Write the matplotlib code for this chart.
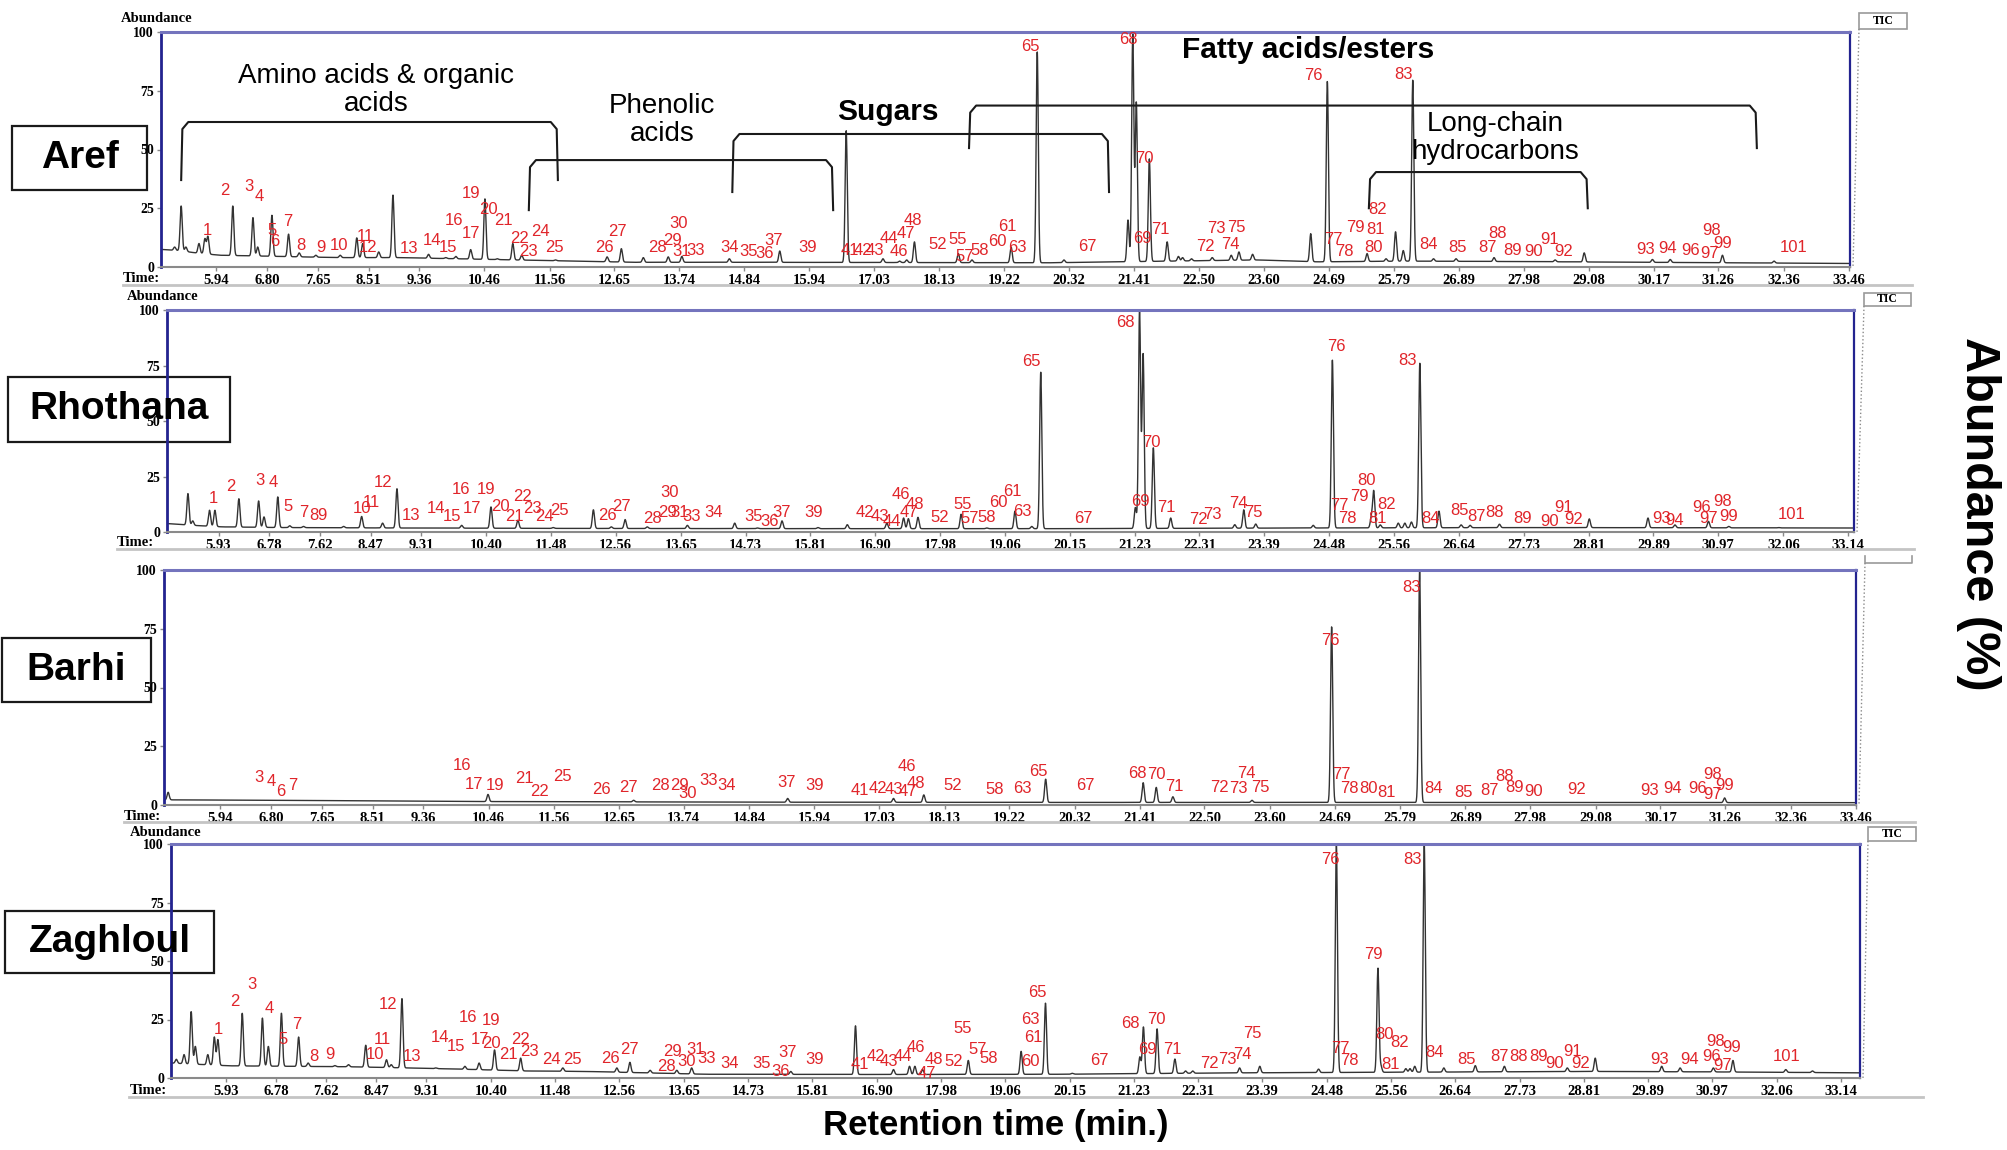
import numpy as np
import matplotlib
matplotlib.use('Agg')
import matplotlib.pyplot as plt
from matplotlib.patches import Rectangle
from matplotlib.lines import Line2D

# ---------------- data ----------------
samples = ['Aref', 'Rhothana', 'Barhi', 'Zaghloul']

ticks_aref = [5.94, 6.80, 7.65, 8.51, 9.36, 10.46, 11.56, 12.65, 13.74, 14.84, 15.94, 17.03,
              18.13, 19.22, 20.32, 21.41, 22.50, 23.60, 24.69, 25.79, 26.89, 27.98, 29.08,
              30.17, 31.26, 32.36, 33.46]
ticks_rhot = [5.93, 6.78, 7.62, 8.47, 9.31, 10.40, 11.48, 12.56, 13.65, 14.73, 15.81, 16.90,
              17.98, 19.06, 20.15, 21.23, 22.31, 23.39, 24.48, 25.56, 26.64, 27.73, 28.81,
              29.89, 30.97, 32.06, 33.14]

# peaks: (retention time, abundance %)
aref_peaks = [(5.24, 8.5), (5.35, 26), (5.43, 8.5), (5.65, 10), (5.75, 12), (5.80, 13), (6.22, 26),
              (6.56, 21), (6.64, 8.5), (6.88, 22), (7.16, 14), (7.34, 6), (7.62, 5), (8.03, 5),
              (8.31, 12.4), (8.41, 10), (8.68, 6.4), (8.92, 30.6), (9.52, 5.4), (9.81, 4), (9.98, 4.5),
              (10.23, 7.4), (10.47, 29), (10.68, 3.5), (10.94, 10), (11.09, 5), (11.66, 3), (12.53, 4.3),
              (12.77, 7.8), (13.14, 4), (13.56, 4.3), (13.79, 4.5), (14.59, 3.5), (15.44, 6.8), (16.56, 58),
              (17.18, 3.5), (17.46, 2.5), (17.58, 3), (17.71, 10.7), (18.45, 5.7), (18.68, 3), (19.34, 8.5),
              (19.78, 91.7), (20.23, 3), (21.31, 20), (21.39, 99.5), (21.45, 70), (21.67, 46), (21.97, 10.7),
              (22.16, 4.5), (22.23, 4), (22.38, 3.5), (22.73, 4), (23.05, 5), (23.18, 6.4), (23.41, 5.4),
              (24.39, 14.2), (24.67, 79), (25.34, 5.7), (25.66, 3.5), (25.82, 15), (25.95, 7), (26.11, 79.7),
              (26.46, 3.5), (26.84, 3.5), (27.48, 4), (28.51, 3), (29.00, 6), (30.15, 3.2), (30.45, 3.2),
              (31.33, 5), (32.20, 2.5)]
aref_base = [(5.0, 7.5), (5.3, 7.0), (5.6, 6.0), (6.0, 5.0), (7.0, 4.5), (8.0, 4.0), (9.0, 4.0),
             (10.0, 3.5), (11.0, 3.0), (12.0, 2.5), (13.0, 2.0), (15.0, 2.0), (20.0, 1.8), (22.0, 2.5),
             (23.5, 3.0), (24.5, 2.2), (26.0, 2.5), (28.0, 2.3), (30.0, 2.0), (33.5, 1.5)]
aref_labels = [(1, 5.80, 15.6), (2, 6.09, 32.7), (3, 6.50, 34.1), (4, 6.67, 29.9), (5, 6.88, 15.6),
               (6, 6.93, 10.7), (7, 7.15, 19.2), (8, 7.37, 9.2), (9, 7.70, 8.5), (10, 8.01, 9.0),
               (11, 8.45, 12.8), (12, 8.50, 8.5), (13, 9.19, 7.8), (14, 9.58, 11.4), (15, 9.85, 8.5),
               (16, 9.95, 19.9), (17, 10.23, 14.2), (19, 10.23, 31.3), (20, 10.53, 24.6), (21, 10.79, 19.9),
               (22, 11.06, 12.1), (23, 11.21, 6.4), (24, 11.41, 14.9), (25, 11.64, 8.5), (26, 12.49, 8.5),
               (27, 12.71, 14.9), (28, 13.38, 8.5), (29, 13.63, 11.4), (30, 13.74, 18.5), (31, 13.79, 6.4),
               (33, 14.02, 7.1), (34, 14.59, 8.5), (35, 14.91, 6.4), (36, 15.18, 5.7), (37, 15.34, 11.4),
               (39, 15.91, 8.5), (41, 16.63, 7.1), (42, 16.84, 7.1), (43, 17.05, 7.1), (44, 17.28, 12.0),
               (46, 17.45, 6.4), (47, 17.56, 14.2), (48, 17.69, 19.9), (52, 18.11, 9.5), (55, 18.43, 11.7),
               (57, 18.56, 4.3), (58, 18.81, 7.1), (60, 19.11, 10.7), (61, 19.27, 17.1), (63, 19.45, 8.5),
               (65, 19.66, 93.9), (67, 20.62, 8.8), (68, 21.31, 97.0), (69, 21.55, 12.1), (70, 21.59, 46.2),
               (71, 21.86, 15.9), (72, 22.61, 8.8), (73, 22.80, 16.4), (74, 23.03, 9.5), (75, 23.14, 16.6),
               (76, 24.44, 81.4), (77, 24.77, 11.7), (78, 24.96, 6.4), (79, 25.14, 16.6), (80, 25.44, 8.5),
               (81, 25.49, 15.9), (82, 25.52, 24.6), (83, 25.96, 81.8), (84, 26.38, 9.5), (85, 26.87, 8.3),
               (87, 27.37, 8.5), (88, 27.54, 14.2), (89, 27.80, 7.1), (90, 28.15, 6.4), (91, 28.42, 11.7),
               (92, 28.65, 6.4), (93, 30.03, 7.4), (94, 30.41, 7.8), (96, 30.80, 7.1), (97, 31.12, 5.7),
               (98, 31.15, 15.6), (99, 31.33, 10.0), (101, 32.53, 8.5)]

rhot_peaks = [(5.42, 17.3), (5.50, 5), (5.78, 9.8), (5.87, 9.8), (6.27, 15), (6.60, 14), (6.69, 6.8),
              (6.92, 15.8), (7.12, 2.8), (7.35, 2.5), (8.02, 2.5), (8.32, 7), (8.67, 4), (8.91, 19.5),
              (9.99, 3), (10.48, 11.3), (10.93, 5.3), (11.52, 2), (12.19, 10), (12.49, 2.3), (12.72, 5.6),
              (13.09, 2.3), (13.76, 3), (14.55, 4), (14.93, 1.8), (15.34, 5), (15.94, 2), (16.43, 3.3),
              (17.09, 4), (17.37, 6.3), (17.45, 6), (17.61, 6.6), (18.33, 8), (18.76, 1.8), (19.23, 9.4),
              (19.51, 2.5), (19.66, 72), (21.24, 11), (21.31, 100), (21.37, 80), (21.54, 38), (21.83, 6.3),
              (22.90, 3.3), (23.05, 10), (23.25, 3.6), (24.21, 3), (24.53, 77.6), (25.18, 6.3), (25.22, 18.4),
              (25.33, 3.2), (25.63, 4), (25.74, 4), (25.85, 4.5), (25.99, 76), (26.31, 9.4), (26.68, 3.2),
              (26.83, 3), (27.32, 3.5), (28.82, 5.9), (29.80, 6.3), (30.25, 3.2), (30.81, 4.8), (31.15, 2.5),
              (31.98, 2)]
rhot_base = [(5.07, 3.8), (5.5, 3.0), (6.0, 2.3), (7.0, 2.0), (9.0, 1.8), (12.0, 1.6), (16.0, 1.5),
             (20.0, 1.5), (24.0, 1.8), (28.0, 2.0), (33.3, 1.8)]
rhot_labels = [(1, 5.84, 15.0), (2, 6.14, 20.3), (3, 6.62, 23.3), (4, 6.85, 22.1), (5, 7.09, 11.6),
               (7, 7.35, 8.6), (8, 7.53, 7.5), (9, 7.66, 7.5), (10, 8.33, 10.5), (11, 8.49, 13.5),
               (12, 8.67, 22.1), (13, 9.14, 7.5), (14, 9.57, 10.5), (15, 9.83, 6.8), (16, 9.98, 19.1),
               (17, 10.16, 10.5), (19, 10.40, 19.1), (20, 10.63, 11.3), (21, 10.87, 6.8), (22, 11.00, 16.1),
               (23, 11.17, 10.5), (24, 11.37, 6.8), (25, 11.63, 9.8), (26, 12.42, 7.5), (27, 12.66, 11.3),
               (28, 13.18, 6.0), (29, 13.42, 9.0), (30, 13.46, 18.0), (31, 13.63, 9.0), (33, 13.83, 6.8),
               (34, 14.19, 8.6), (35, 14.87, 7.1), (36, 15.14, 4.8), (37, 15.34, 8.6), (39, 15.87, 8.6),
               (42, 16.72, 8.6), (43, 16.97, 7.1), (44, 17.18, 4.8), (46, 17.33, 16.9), (47, 17.45, 8.6),
               (48, 17.56, 12.4), (52, 17.97, 6.6), (55, 18.35, 12.4), (57, 18.48, 6.0), (58, 18.76, 6.6),
               (60, 18.95, 13.1), (61, 19.18, 18.4), (63, 19.35, 9.4), (65, 19.50, 76.9), (67, 20.38, 6.3),
               (68, 21.08, 94.4), (69, 21.32, 13.6), (70, 21.51, 40.3), (71, 21.75, 10.9), (72, 22.30, 5.6),
               (73, 22.52, 7.9), (74, 22.96, 12.7), (75, 23.21, 8.6), (76, 24.60, 83.7), (77, 24.64, 12.0),
               (78, 24.78, 6.3), (79, 24.99, 16.2), (80, 25.10, 23.0), (81, 25.29, 6.3), (82, 25.44, 12.4),
               (83, 25.78, 77.3), (84, 26.16, 6.3), (85, 26.66, 9.8), (87, 26.93, 7.1), (88, 27.23, 8.6),
               (89, 27.70, 6.3), (90, 28.15, 4.8), (91, 28.39, 10.9), (92, 28.56, 5.6), (93, 30.02, 6.3),
               (94, 30.25, 5.1), (96, 30.70, 10.9), (97, 30.81, 5.9), (98, 31.04, 13.9), (99, 31.15, 7.1),
               (101, 32.20, 7.9)]

barhi_peaks = [(5.07, 5.4), (10.45, 4.5), (12.90, 2.0), (15.49, 2.8), (17.27, 2.8), (17.78, 4.3),
               (19.83, 11), (21.47, 9.5), (21.69, 7.5), (21.97, 3.5), (23.30, 2.0), (24.64, 75.9),
               (26.12, 100), (31.25, 3)]
barhi_base = [(5.0, 2.2), (7.0, 2.0), (10.0, 1.5), (15.0, 1.2), (20.0, 1.1), (25.0, 1.1), (33.5, 1.0)]
barhi_labels = [(3, 6.59, 11.6), (4, 6.81, 9.9), (6, 6.97, 5.7), (7, 7.16, 8.5), (16, 10.02, 16.6),
                (17, 10.21, 8.8), (19, 10.57, 8.5), (21, 11.06, 11.1), (22, 11.32, 5.7), (25, 11.71, 12.1),
                (26, 12.35, 6.4), (27, 12.81, 7.5), (28, 13.35, 8.5), (29, 13.67, 8.5), (30, 13.81, 5.0),
                (33, 14.16, 10.6), (34, 14.46, 8.5), (37, 15.48, 9.5), (39, 15.95, 8.5), (41, 16.70, 6.1),
                (42, 17.01, 7.1), (43, 17.27, 6.4), (46, 17.49, 16.3), (47, 17.51, 5.7), (48, 17.65, 9.2),
                (52, 18.27, 8.5), (58, 18.97, 6.4), (63, 19.43, 7.1), (65, 19.70, 14.2), (67, 20.50, 8.5),
                (68, 21.38, 13.5), (70, 21.70, 12.8), (71, 22.00, 7.8), (72, 22.75, 7.4), (73, 23.07, 7.1),
                (74, 23.21, 13.5), (75, 23.44, 7.4), (76, 24.62, 70.2), (77, 24.81, 12.8), (78, 24.94, 7.1),
                (80, 25.26, 7.1), (81, 25.56, 5.4), (83, 25.99, 92.5), (84, 26.35, 7.1), (85, 26.85, 5.4),
                (87, 27.29, 6.0), (88, 27.54, 12.1), (89, 27.72, 7.5), (90, 28.04, 5.7), (92, 28.76, 6.4),
                (93, 29.99, 6.0), (94, 30.38, 7.1), (96, 30.80, 7.1), (97, 31.04, 4.3), (98, 31.04, 12.8),
                (99, 31.25, 8.1)]

zagh_peaks = [(5.10, 8), (5.23, 10), (5.35, 28.4), (5.42, 13.5), (5.63, 10), (5.74, 17.5), (5.80, 16.4),
              (6.21, 27.7), (6.55, 25.6), (6.65, 13.5), (6.87, 27.7), (7.16, 17.5), (7.32, 6.4), (7.77, 5.3),
              (8.00, 5.7), (8.29, 14), (8.64, 7.8), (8.72, 5.7), (8.90, 34), (9.47, 4.3), (9.96, 5),
              (10.20, 6.4), (10.46, 12), (10.90, 8.5), (11.16, 3), (11.61, 4.3), (11.92, 2.5), (12.52, 4.3),
              (12.74, 6.7), (13.08, 3.3), (13.53, 3.3), (13.78, 4.3), (15.45, 2.8), (16.54, 22.3),
              (17.18, 3.6), (17.45, 5), (17.54, 5), (17.67, 3.6), (18.44, 7.5), (19.33, 11.4), (19.74, 32),
              (20.19, 2), (21.33, 9), (21.39, 21.8), (21.62, 21), (21.92, 8.1), (22.10, 3), (22.22, 3),
              (23.01, 4.3), (23.35, 5), (24.34, 3.8), (24.64, 100), (25.34, 47), (25.39, 5), (25.81, 4),
              (25.88, 4), (25.96, 5), (26.12, 100), (26.45, 4.3), (26.98, 5.3), (27.47, 5), (28.53, 4.3),
              (29.00, 8.5), (30.12, 5), (30.43, 4.3), (30.99, 4.3), (31.32, 7.5), (32.21, 3.6), (32.66, 3)]
zagh_base = [(5.0, 6.4), (6.0, 5.2), (7.0, 5.0), (8.0, 4.8), (9.0, 4.3), (10.0, 3.7), (11.0, 3.0),
             (12.0, 2.8), (13.0, 2.2), (14.0, 1.6), (17.0, 1.5), (20.0, 1.6), (23.0, 2.2), (26.0, 2.5),
             (29.0, 2.8), (31.0, 2.6), (33.5, 2.2)]
zagh_labels = [(1, 5.80, 20.6), (2, 6.08, 32.7), (3, 6.38, 39.8), (4, 6.66, 29.9), (5, 6.89, 16.4),
               (7, 7.13, 22.8), (8, 7.41, 9.2), (9, 7.68, 10.0), (10, 8.45, 10.0), (11, 8.57, 16.4),
               (12, 8.66, 31.3), (13, 9.07, 9.2), (14, 9.54, 17.1), (15, 9.81, 13.5), (16, 10.01, 26.0),
               (17, 10.21, 16.4), (19, 10.40, 24.5), (20, 10.40, 14.9), (21, 10.70, 10.0), (22, 10.89, 16.4),
               (23, 11.04, 11.4), (24, 11.41, 7.8), (25, 11.77, 7.8), (26, 12.41, 8.5), (27, 12.74, 12.1),
               (28, 13.35, 5.0), (29, 13.46, 11.4), (30, 13.70, 7.1), (31, 13.84, 12.1), (33, 14.03, 8.5),
               (34, 14.42, 6.4), (35, 14.95, 6.4), (36, 15.27, 2.8), (37, 15.40, 11.0), (39, 15.85, 8.1),
               (41, 16.62, 5.7), (42, 16.88, 9.0), (43, 17.11, 7.1), (44, 17.33, 9.0), (46, 17.56, 13.2),
               (47, 17.75, 2.1), (48, 17.86, 8.1), (52, 18.20, 7.1), (55, 18.35, 21.3), (57, 18.60, 12.1),
               (58, 18.79, 8.5), (60, 19.49, 7.1), (61, 19.54, 17.1), (63, 19.49, 24.9), (65, 19.61, 36.6),
               (67, 20.64, 7.5), (68, 21.17, 23.2), (69, 21.45, 12.1), (70, 21.60, 24.9), (71, 21.87, 12.1),
               (72, 22.51, 6.1), (73, 22.81, 8.1), (74, 23.06, 10.0), (75, 23.22, 19.2), (76, 24.54, 93.5),
               (77, 24.71, 12.8), (78, 24.86, 7.5), (79, 25.26, 52.9), (80, 25.45, 18.5), (81, 25.56, 5.7),
               (82, 25.71, 15.2), (83, 25.92, 93.5), (84, 26.30, 10.7), (85, 26.83, 8.1), (87, 27.38, 9.2),
               (88, 27.70, 9.2), (89, 28.04, 9.0), (90, 28.32, 6.4), (91, 28.61, 11.4), (92, 28.76, 6.4),
               (93, 30.09, 8.1), (94, 30.59, 8.1), (96, 30.96, 9.0), (97, 31.15, 5.3), (98, 31.03, 15.6),
               (99, 31.30, 13.1), (101, 32.23, 9.0)]

# compound classes marked on the Aref trace (retention-time spans)
cat_names = ['Amino acids & organic\nacids', 'Phenolic\nacids', 'Sugars', 'Fatty acids/esters',
             'Long-chain\nhydrocarbons']
cat_span = [(5.35, 11.70), (11.21, 16.34), (14.64, 20.99), (18.63, 31.91), (25.37, 29.06)]

# ---------------- figure ----------------
W, H = 2008, 1150
fig = plt.figure(figsize=(W / 100, H / 100), dpi=100)

serif = 'Liberation Serif'
red = '#e0252a'
narrow = ['Liberation Sans Narrow', 'Liberation Sans']


def fx(px):
    return px / W


def fy(py):
    return 1 - py / H


def chromatogram(ax, xlim, peaks, base, labels, ticks):
    tt = np.linspace(xlim[0], xlim[1], 9000)
    bt = [b[0] for b in base]
    bh = [b[1] for b in base]
    y = np.interp(tt, bt, bh)
    for pt, ph in peaks:
        amp = max(ph - np.interp(pt, bt, bh), 0)
        y = y + amp * np.exp(-0.5 * ((tt - pt) / 0.018) ** 2)
    ax.plot(tt, np.minimum(y, 100), color='#333333', lw=1.0, zorder=2)
    for n, lt, ly in labels:
        ax.text(lt, ly, str(n), color=red, ha='center', va='center', fontsize=12,
                family=narrow, zorder=3)
    ax.set_xlim(xlim)
    ax.set_ylim(0, 100)
    ax.set_xticks(ticks)
    ax.set_xticklabels(['%.2f' % v for v in ticks], fontfamily=serif, fontweight='bold', fontsize=10.5)
    ax.set_yticks([0, 25, 50, 75, 100])
    ax.set_yticklabels(['0', '25', '50', '75', '100'], fontfamily=serif, fontweight='bold', fontsize=10)
    ax.tick_params(axis='x', length=3, width=1, color='#888888', pad=2)
    ax.tick_params(axis='y', length=3, width=1, color='#888888', pad=2)
    ax.spines['top'].set_color('#7474bd')
    ax.spines['top'].set_linewidth(2.2)
    ax.spines['left'].set_color('#23238f')
    ax.spines['left'].set_linewidth(2.0)
    ax.spines['right'].set_color('#23238f')
    ax.spines['right'].set_linewidth(1.6)
    ax.spines['bottom'].set_color('#8a8a8a')
    ax.spines['bottom'].set_linewidth(1.5)
    ax.patch.set_alpha(0)


# panel frames in pixels: left, top, right, bottom
rects = [(161, 32, 1850, 267), (167, 310, 1854, 532), (164, 570, 1856, 805), (171, 844, 1860, 1078)]
xlims = [(5.01, 33.48), (5.07, 33.24), (5.00, 33.45), (5.01, 33.46)]
panel_peaks = [aref_peaks, rhot_peaks, barhi_peaks, zagh_peaks]
panel_base = [aref_base, rhot_base, barhi_base, zagh_base]
panel_labels = [aref_labels, rhot_labels, barhi_labels, zagh_labels]
panel_ticks = [ticks_aref, ticks_rhot, ticks_aref, ticks_rhot]

axes = []
for i in range(4):
    l, t, r, b = rects[i]
    ax = fig.add_axes([fx(l), fy(b), (r - l) / W, (b - t) / H])
    chromatogram(ax, xlims[i], panel_peaks[i], panel_base[i], panel_labels[i], panel_ticks[i])
    axes.append(ax)

# "Abundance" / "Time:" captions, rule under time axis, TIC boxes
abund_pos = [(121, 18), (127, 297), None, (130, 832)]
time_pos = [(123, 279), (117, 542), (124, 817), (130, 1090)]
rule = [(123, 1912, 285), (117, 1914, 549), (124, 1915, 822), (129, 1923, 1097)]
tic_box = [(1859, 13, 1907, 29), (1864, 293, 1911, 306), (1865, 556, 1912, 563), (1868, 827, 1916, 841)]
for i in range(4):
    if abund_pos[i] is not None:
        fig.text(fx(abund_pos[i][0]), fy(abund_pos[i][1]), 'Abundance', fontfamily=serif,
                 fontweight='bold', fontsize=10.5, ha='left', va='center')
    fig.text(fx(time_pos[i][0]), fy(time_pos[i][1]), 'Time:', fontfamily=serif,
             fontweight='bold', fontsize=10.5, ha='left', va='center')
    x0, x1, yr = rule[i]
    fig.add_artist(Line2D([fx(x0), fx(x1)], [fy(yr), fy(yr)], color='#c4c4c4', lw=2))
    bx0, by0, bx1, by1 = tic_box[i]
    if i != 2:
        fig.add_artist(Rectangle((fx(bx0), fy(by1)), fx(bx1) - fx(bx0), (by1 - by0) / H,
                                 fill=False, edgecolor='#9a9a9a', lw=1.2))
        fig.text(fx((bx0 + bx1) / 2), fy((by0 + by1) / 2), 'TIC', fontfamily=serif,
                 fontweight='bold', fontsize=8.5, ha='center', va='center')
    else:
        # only the lower edge of this box shows below the panel above
        fig.add_artist(Line2D([fx(bx0), fx(bx0), fx(bx1), fx(bx1)],
                              [fy(by0), fy(by1), fy(by1), fy(by0)], color='#9a9a9a', lw=1.2))
    l, t, r, b = rects[i]
    fig.add_artist(Line2D([fx(bx0), fx(r + 3)], [fy(by1), fy(b)], color='#8a8a8a', lw=1.0, ls=':'))

# sample name boxes
name_box = [(12, 126, 147, 190), (8, 377, 230, 442), (2, 638, 151, 702), (5, 911, 214, 973)]
for i, name in enumerate(samples):
    x0, y0, x1, y1 = name_box[i]
    fig.add_artist(Rectangle((fx(x0), fy(y1)), (x1 - x0) / W, (y1 - y0) / H,
                             fill=False, edgecolor='#1a1a1a', lw=1.6, zorder=0))
    fig.text(fx((x0 + x1) / 2), fy((y0 + y1) / 2), name, fontfamily='Liberation Sans',
             fontweight='bold', fontsize=28, ha='center', va='center')

# compound class brackets on the Aref panel
ax0 = axes[0]
bracket_lv = [(61.7, 37.0), (45.5, 24.2), (56.6, 31.9), (68.7, 50.6), (40.4, 25.0)]
cat_text = [(8.64, 75.2), (13.46, 62.4), (17.27, 66.0), (24.35, 92.4), (27.50, 54.9)]
cat_bold = [False, False, True, True, False]
for i, name in enumerate(cat_names):
    a, b = cat_span[i]
    top, bot = bracket_lv[i]
    d = 0.12
    xs = [a, a + 0.02, a + d, b - d, b - 0.02, b]
    ys = [bot, top - 3, top, top, top - 3, bot]
    ax0.plot(xs, ys, color='#1a1a1a', lw=1.5, zorder=2, solid_joinstyle='round')
    ax0.text(cat_text[i][0], cat_text[i][1], name, ha='center', va='center',
             fontfamily='Liberation Sans', fontweight='bold' if cat_bold[i] else 'normal',
             fontsize=21.5 if cat_bold[i] else 20, linespacing=1.1, zorder=4)

# global axis titles
fig.text(0.496, fy(1125), 'Retention time (min.)', fontfamily='Liberation Sans', fontweight='bold',
         fontsize=25, ha='center', va='center')
fig.text(0.9855, fy(514), 'Abundance (%)', fontfamily='Liberation Sans', fontweight='bold',
         fontsize=35, ha='center', va='center', rotation=270)

fig.savefig('out.png', dpi=100)
